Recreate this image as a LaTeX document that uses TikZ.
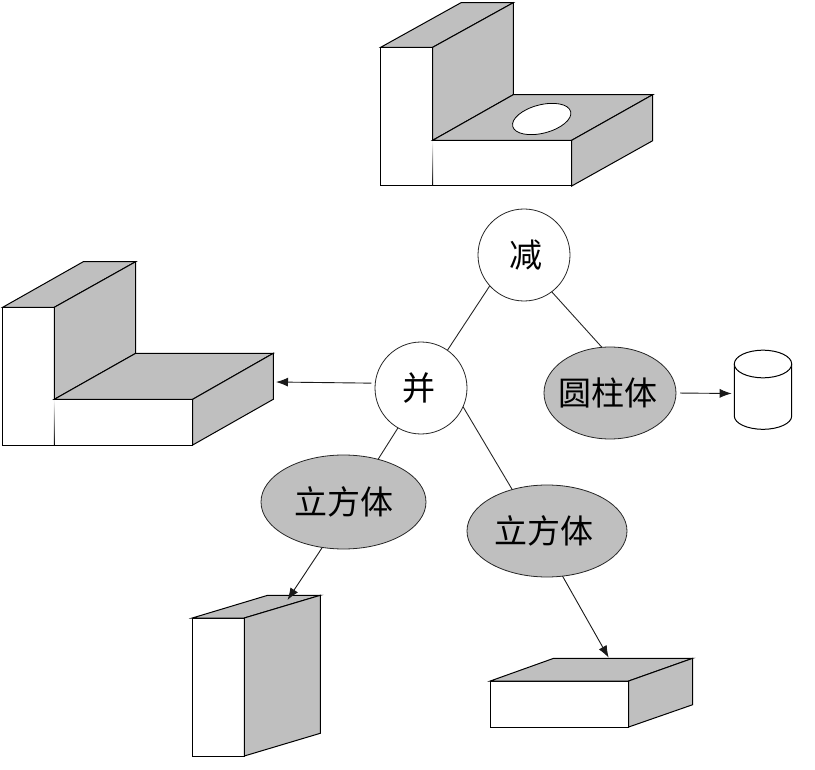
\documentclass[tikz,border=0pt]{standalone}
\usepackage{fontspec}
\newfontfamily\cjk{Noto Sans CJK SC}
\usetikzlibrary{arrows.meta,shapes.geometric}
\tikzset{
  solid face/.style={draw=black, line width=1pt, line join=miter, fill=#1},
  fade line/.style={top color=white, middle color=black!55, bottom color=black},
  op/.style={circle, draw=black!85, line width=0.8pt, fill=white, minimum size=92pt, inner sep=0pt, outer sep=0pt, font=\cjk\fontsize{33}{33}\selectfont},
  prim/.style={ellipse, draw=black!85, line width=0.8pt, fill=black!25, inner sep=0pt, outer sep=0pt, font=\cjk\fontsize{33}{33}\selectfont},
  tree/.style={black!85, line width=0.9pt},
  link/.style={black!90, line width=0.9pt, -{Latex[length=12pt,width=9pt]}}
}
\begin{document}
\begin{tikzpicture}[x=1pt, y=-1pt]
    \useasboundingbox (0,0) rectangle (815,770);

    % solid with hole
    \draw[solid face=white] (380.7,47.3) rectangle (432.7,186);
    \draw[solid face=white] (432.7,140.3) rectangle (571.7,186);
    \shade[fade line] (432.2,140.3) rectangle (433.2,186);
    \draw[solid face=black!25] (380.7,47.3) -- (461,2.7) -- (513.3,2.7) -- (432.7,47.3) -- cycle;
    \draw[solid face=black!25] (432.7,47.3) -- (513.3,2.7) -- (513.3,94.7) -- (432.7,140.3) -- cycle;
    \draw[solid face=black!25] (432.7,140.3) -- (513.3,94.7) -- (652.7,94.7) -- (571.7,140.3) -- cycle;
    \draw[solid face=black!25] (571.7,140.3) -- (652.7,94.7) -- (652.7,140.7) -- (571.7,186) -- cycle;
    \draw[fill=white, line width=0.8pt, rotate around={14.4:(541.7,119)}] (541.7,119) ellipse [x radius=29.9, y radius=14.2];

    % solid without hole
    \draw[solid face=white] (2.7,307.3) rectangle (54.3,445);
    \draw[solid face=white] (54.3,399.3) rectangle (192.7,445);
    \shade[fade line] (53.8,399.3) rectangle (54.8,445);
    \draw[solid face=black!25] (2.7,307.3) -- (83.3,261.7) -- (135.7,261.7) -- (54.3,307.3) -- cycle;
    \draw[solid face=black!25] (54.3,307.3) -- (135.7,261.7) -- (135.7,353.3) -- (54.3,399.3) -- cycle;
    \draw[solid face=black!25] (54.3,399.3) -- (135.7,353.3) -- (273.3,353.3) -- (192.7,399.3) -- cycle;
    \draw[solid face=black!25] (192.7,399.3) -- (273.3,353.3) -- (273.3,399.3) -- (192.7,445) -- cycle;

    % upright block
    \draw[solid face=white] (192.3,618) rectangle (244.3,756);
    \draw[solid face=black!25] (192.3,618) -- (267.7,595.3) -- (320.3,595.3) -- (244.3,618) -- cycle;
    \draw[solid face=black!25] (244.3,618) -- (320.3,595.3) -- (320.3,733.3) -- (244.3,756) -- cycle;

    % flat block
    \draw[solid face=white] (490.3,681) rectangle (628.7,727);
    \draw[solid face=black!25] (490.3,681) -- (553.7,658.3) -- (692.7,658.3) -- (628.7,681) -- cycle;
    \draw[solid face=black!25] (628.7,681) -- (692.7,658.3) -- (692.7,704.7) -- (628.7,727) -- cycle;

    % cylinder
    \draw[line width=1pt, fill=white] (734.3,364) -- (734.3,416) arc [start angle=180, end angle=0, x radius=28.7, y radius=13.3] -- (791.7,364);
    \draw[line width=1pt, fill=white] (763,364) ellipse [x radius=28.7, y radius=13.8];

    \node[op] (minus) at (524,255) {\kern3pt减};
    \node[op] (union) at (421,388) {\kern-5pt并};
    \node[prim, minimum width=132pt, minimum height=92pt] (cyl) at (610,393) {\makebox[80pt][c]{圆柱体\kern5pt}};
    \node[prim, minimum width=165pt, minimum height=94pt] (boxa) at (343.5,502) {立方体};
    \node[prim, minimum width=160pt, minimum height=92pt] (boxb) at (547,531) {立方体\kern7pt};

    \coordinate (solidb) at (276,382);
    \coordinate (solidc) at (287.5,600);
    \coordinate (solidd) at (608.7,657.7);
    \coordinate (solide) at (731.7,393.5);

    \draw[tree] (minus.222) -- (union.55);
    \draw[tree] (minus.-53) -- (cyl.100);
    \draw[tree] (union.240) -- (boxa.51);
    \draw[tree] (union.-24) -- (boxb.130);

    \draw[link, shorten <=4pt] (union.174) -- (solidb);
    \draw[link, shorten <=4pt] (cyl.0) -- (solide);
    \draw[link] (boxa.245) -- (solidc);
    \draw[link] (boxb.-71) -- (solidd);
\end{tikzpicture}
\end{document}
